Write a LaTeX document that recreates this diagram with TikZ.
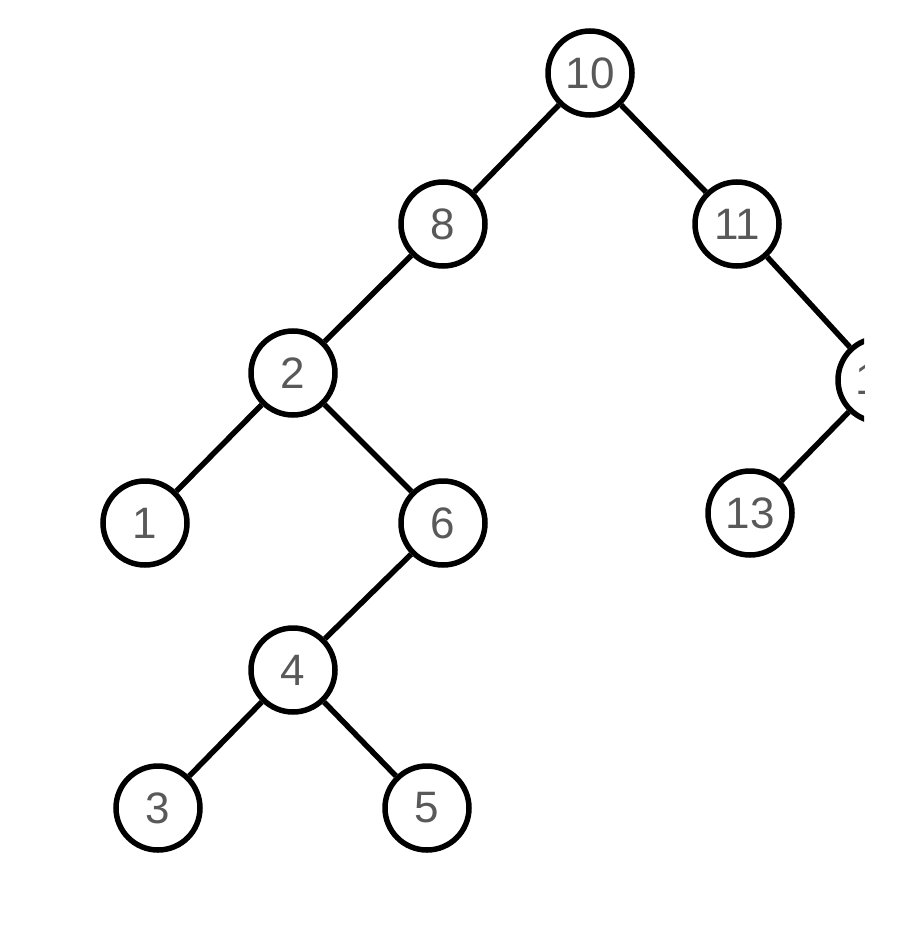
\documentclass[tikz,border=0pt]{standalone}
\usepackage{fontspec}
\setmainfont{Liberation Sans}
\begin{document}
\begin{tikzpicture}[x=1pt,y=-1pt,line width=5.5pt,
  key node/.style={circle,draw,fill=white,minimum size=84pt,inner sep=0pt,
    text=black!65,font=\fontsize{44}{44}\selectfont}]
  \useasboundingbox (0,0) rectangle (896,952);
  % the source picture is cut off on the right
  \clip (0,0) rectangle (864,952);

  \node[key node] (10) at (590,73)  {10};
  \node[key node] (8)  at (443,224) {8};
  \node[key node] (11) at (737,224) {11};
  \node[key node] (2)  at (293,373) {2};
  \node[key node] (15) at (880,380) {15};
  \node[key node] (1)  at (145,523) {1};
  \node[key node] (6)  at (443,523) {6};
  \node[key node] (13) at (750,513) {13};
  \node[key node] (4)  at (293,670) {4};
  \node[key node] (3)  at (158,808) {3};
  \node[key node] (5)  at (427,808) {5};

  \path
    (10) edge (8)
    (10) edge (11)
    (8) edge (2)
    (11) edge (15)
    (2) edge (1)
    (2) edge (6)
    (15) edge (13)
    (6) edge (4)
    (4) edge (3)
    (4) edge (5);
\end{tikzpicture}
\end{document}
